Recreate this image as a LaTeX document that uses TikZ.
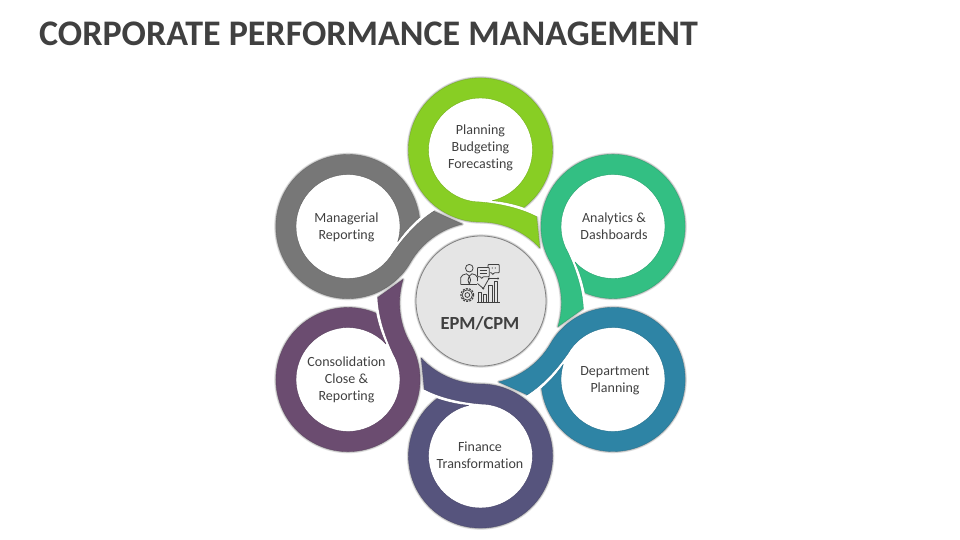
\documentclass[tikz,border=0pt]{standalone}
\usepackage{fontspec}
\setmainfont[Ligatures=NoCommon]{Carlito}
\definecolor{cInk}{HTML}{404040}
\definecolor{cA}{HTML}{88CE24}
\definecolor{cB}{HTML}{33BF83}
\definecolor{cC}{HTML}{2E84A5}
\definecolor{cD}{HTML}{56547D}
\definecolor{cE}{HTML}{6B4C70}
\definecolor{cF}{HTML}{777777}
\tikzset{
  lbl/.style={font=\fontsize{14}{17}\selectfont, text=cInk, align=center, inner sep=0pt},
  ico/.style={draw=cInk, line width=.8pt, line join=round},
}
\newcommand{\petalpath}{(65.6:105) arc[start angle=-52.9, end angle=270, radius=72pt]
  arc[start angle=90, end angle=43, radius=81pt] -- (57:103)
  .. controls (68:103) and (80:101) .. (90:101)
  arc[start angle=270, end angle=-77, radius=52pt]
  .. controls (77:104) and (71:104.5) .. (65.6:105) -- cycle}
\newcommand{\petalshadow}{(65.6:105) arc[start angle=-52.9, end angle=270, radius=72pt]
  arc[start angle=90, end angle=43, radius=81pt] -- (57:103)}
\begin{document}
\begin{tikzpicture}[x=1pt,y=1pt]
\useasboundingbox (0,0) rectangle (960,-540);
\node[anchor=center, inner sep=0pt, font=\fontsize{36}{40}\selectfont\bfseries, text=cInk] (title) at (368.5,-34) {CORPORATE PERFORMANCE MANAGEMENT};

\foreach \k/\c in {0/cA,1/cB,2/cC,3/cD,4/cE,5/cF}{
  \begin{scope}[shift={(480.5,-303)}, rotate=-60*\k]
    \foreach \w in {3.6,2.4,1.4}{
      \draw[black, opacity=.10, line width=\w pt, line join=round] \petalshadow;
    }
    \fill[\c] \petalpath;
    \draw[\c!85!black, line width=.35pt, line join=round] \petalpath;
  \end{scope}
}

% centre disc
\foreach \w in {3.6,2.4}{
  \draw[black, opacity=.10, line width=\w pt] (481,-301) circle[radius=65pt];
}
\node[circle, draw=black!50, line width=.8pt, fill=black!10, minimum size=130pt, inner sep=0pt] (hub) at (481,-301) {};
\node[lbl, font=\fontsize{18.5}{20}\selectfont\bfseries] (hubtext) at (480,-323.5) {EPM/CPM};

% icon
\begin{scope}
  % person
  \draw[ico] (469.3,-268.2) circle[radius=3.8pt];
  \draw[ico] (460.8,-284.5) -- (460.8,-277.5) .. controls (461,-275) and (464,-274.5) .. (466.5,-273.8) -- (469.3,-276) -- (472,-273.8) .. controls (474.5,-274.5) and (477,-275) .. (477.5,-277.5) -- (477.5,-281);
  \draw[ico] (460.8,-284.5) -- (476.5,-284.5);
  \draw[ico] (469.3,-276) -- (468,-280) -- (469.3,-284.5) -- (470.6,-280) -- cycle;
  % bubbles
  \draw[ico, rounded corners=.8pt] (488,-267.5) -- (488,-264.5) -- (499.3,-264.5) -- (499.3,-272.8) -- (494,-272.8) -- (492.5,-275) -- (492,-272.8) -- (489.5,-272.8);
  \draw[ico, rounded corners=.8pt, fill=black!10] (477.5,-267.5) -- (489.3,-267.5) -- (489.3,-276.7) -- (483,-276.7) -- (481.5,-279) -- (480.8,-276.7) -- (477.5,-276.7) -- cycle;
  \draw[ico] (479.7,-270.5) -- (487,-270.5) (479.7,-273.5) -- (487,-273.5);
  \fill[cInk] (492.3,-268) circle[radius=.6pt] (495.2,-268) circle[radius=.6pt];
  % gear
  \draw[ico, line width=1.1pt, dash pattern=on 2pt off 1.2pt] (467.3,-295) circle[radius=6.4pt];
  \draw[ico] (467.3,-295) circle[radius=5.2pt];
  \draw[ico] (467.3,-295) circle[radius=2.4pt];
  % bars
  \draw[ico] (477.3,-302.4) -- (500,-302.4);
  \draw[ico] (478,-302.4) -- (478,-292) -- (481.3,-292) -- (481.3,-302.4);
  \draw[ico] (483.5,-302.4) -- (483.5,-294) -- (486.7,-294) -- (486.7,-302.4);
  \draw[ico] (488.7,-302.4) -- (488.7,-285) -- (492,-285) -- (492,-302.4);
  \draw[ico] (494,-302.4) -- (494,-281) -- (497.3,-281) -- (497.3,-302.4);
  % trend
  \draw[ico] (477.5,-283.5) -- (483.3,-288.5) -- (489,-278.5) -- (497.5,-278.5);
  \fill[cInk] (483.3,-288.5) circle[radius=1.1pt] (489,-278.5) circle[radius=1.1pt] (498,-278.5) circle[radius=1.1pt];
\end{scope}

\node[lbl] (t1) at (480.5,-147.5) {Planning\\Budgeting\\Forecasting};
\node[lbl] (t2) at (614,-226.5) {Analytics \&\\Dashboards};
\node[lbl] (t3) at (615,-380.8) {Department\\Planning};
\node[lbl] (t4) at (480,-455.5) {Finance\\Transformation};
\node[lbl] (t5) at (346.5,-380) {Consolidation\\Close \&\\Reporting};
\node[lbl] (t6) at (346.5,-227) {Managerial\\Reporting};
\end{tikzpicture}
\end{document}
